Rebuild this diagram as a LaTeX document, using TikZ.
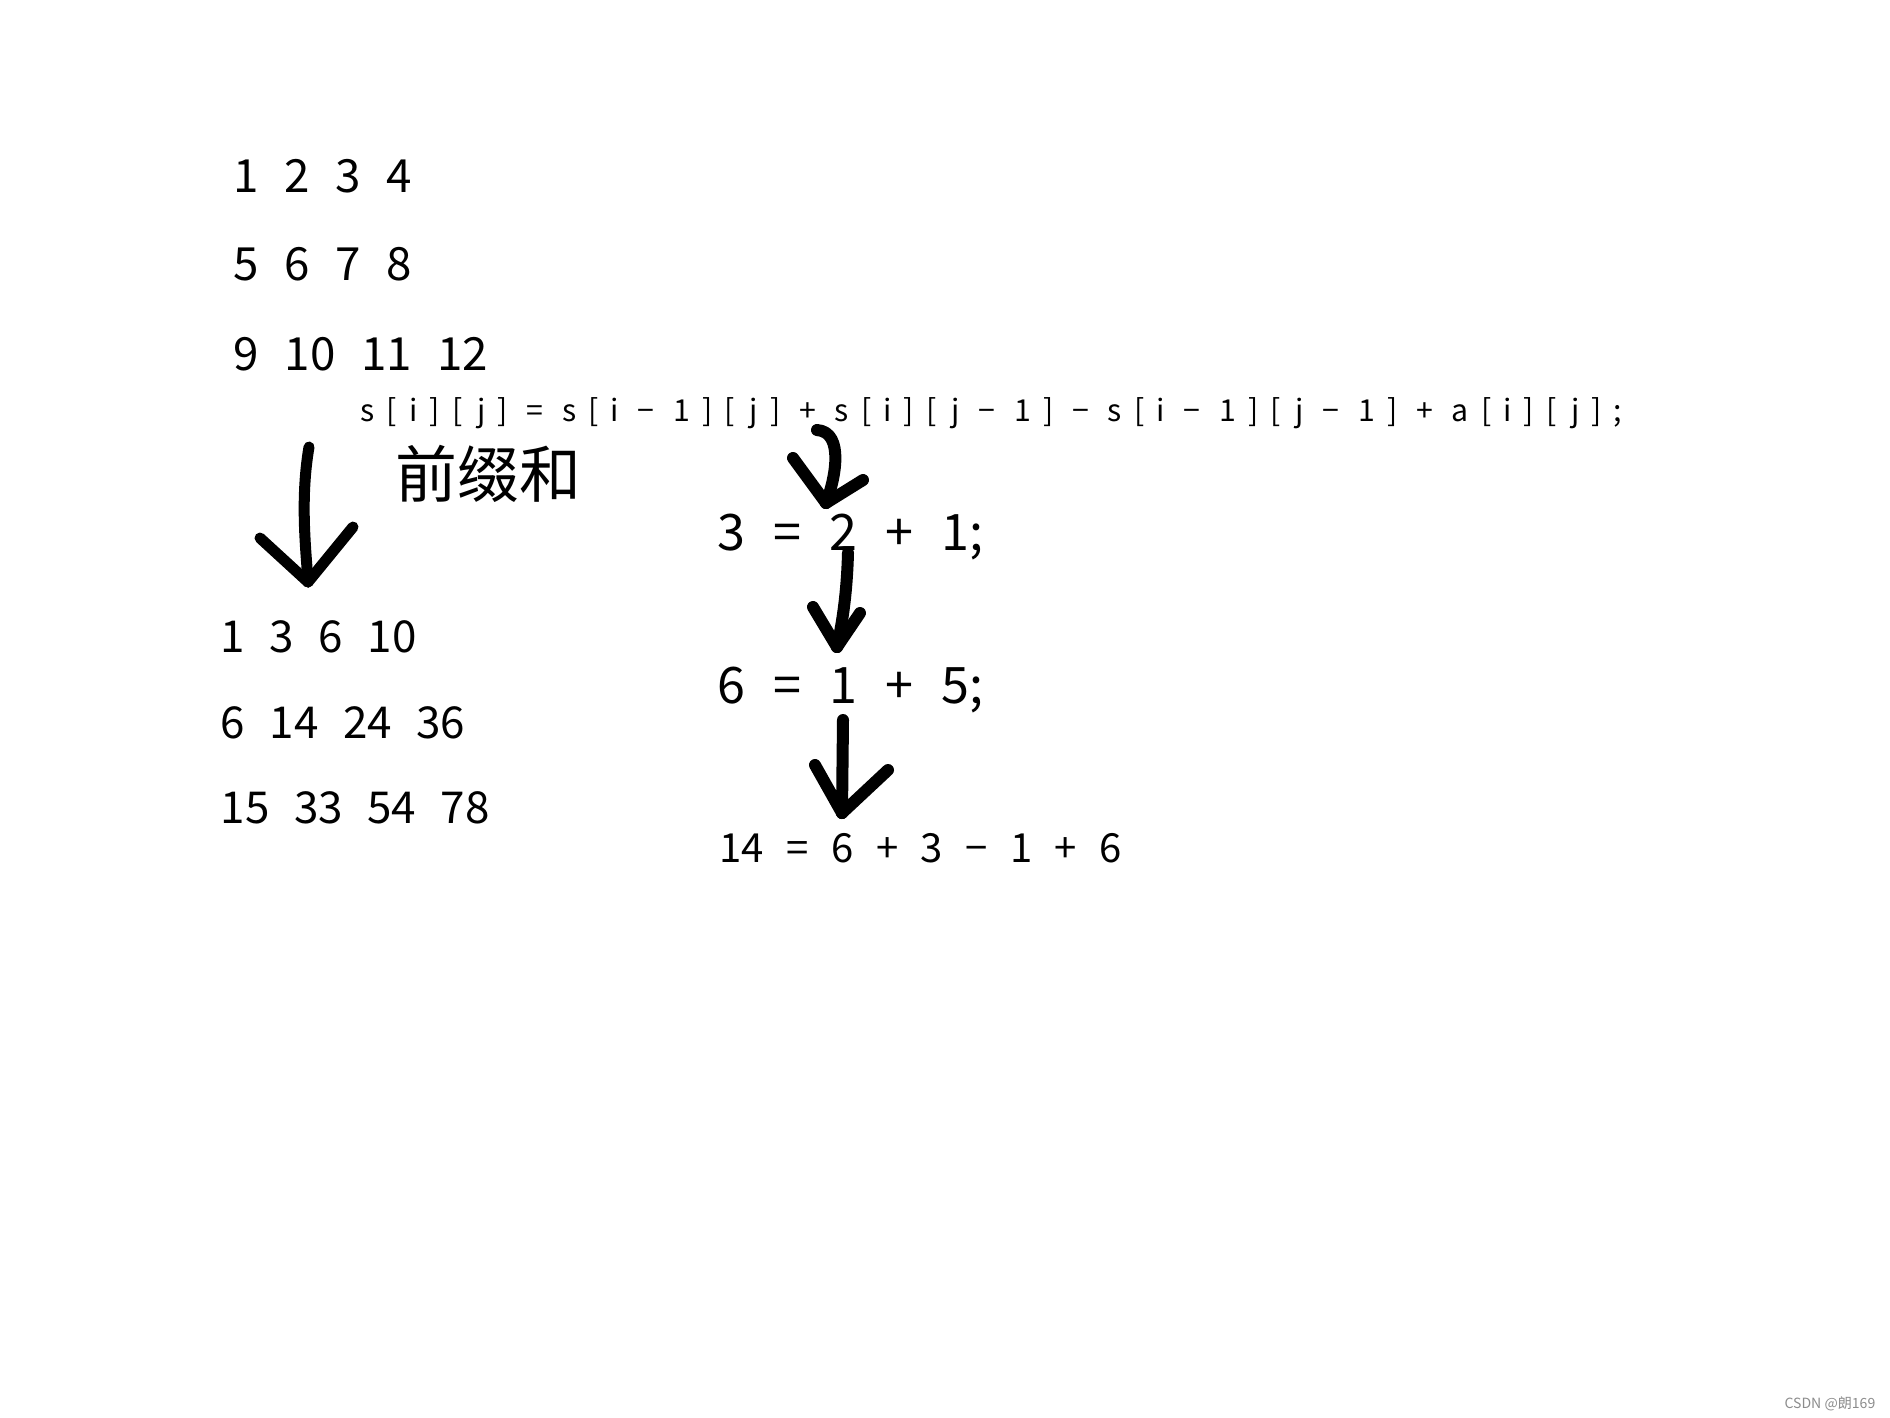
\documentclass[tikz,border=0pt]{standalone}
\usepackage{fontspec}
\setmainfont{Noto Sans CJK SC}
\newfontfamily\numfont{Noto Sans CJK SC}[WordSpace=2.5]
\newfontfamily\codefont{Noto Sans CJK SC}[LetterSpace=40]
\tikzset{
  num row/.style={
    anchor=base west,
    inner sep=0pt,
    font=\numfont\fontsize{13}{13}\selectfont,
  },
  eq row/.style={
    anchor=base west,
    inner sep=0pt,
    font=\numfont\fontsize{14.3}{14.3}\selectfont,
  },
  brush/.style={
    line width=0.12cm,
    line cap=round,
    line join=round,
  },
}

\begin{document}
\begin{tikzpicture}[x=0.01cm,y=-0.01cm]
        \useasboundingbox (0,0) rectangle (1890,1417);

        \node[num row] (a1) at (233,192) {1 2 3 4};
        \node[num row] (a2) at (233,280) {5 6 7 8};
        \node[num row] (a3) at (233,370) {9 10 11 12};

        \node[anchor=base west, inner sep=0pt, font=\codefont\fontsize{8.6}{8.6}\selectfont] (rule) at (360,421)
          {s[i][j] = s[i − 1][j] + s[i][j − 1] − s[i − 1][j − 1] + a[i][j];};
        \node[anchor=base west, inner sep=0pt, font=\fontsize{17.6}{17.6}\selectfont] (name) at (395,497) {前缀和};

        \node[num row, font=\numfont\fontsize{12.5}{12.5}\selectfont] (b1) at (220,652) {1 3 6 10};
        \node[num row, font=\numfont\fontsize{12.5}{12.5}\selectfont] (b2) at (220,738) {6 14 24 36};
        \node[num row, font=\numfont\fontsize{12.5}{12.5}\selectfont] (b3) at (220,823) {15 33 54 78};

        \node[eq row] (e1) at (717,550) {3 = 2 + 1;};
        \node[eq row] (e2) at (717,703) {6 = 1 + 5;};
        \node[eq row, font=\numfont\fontsize{11.4}{11.4}\selectfont] (e3) at (719,862) {14 = 6 + 3 − 1 + 6};

        \node[anchor=base east, inner sep=0pt, text=black!45, font=\fontsize{4}{4}\selectfont] (mark) at (1876,1408) {CSDN @朗169};

        \coordinate (s0) at (309,447);
        \coordinate (t0) at (308,582);
        \coordinate (s1) at (817,430);
        \coordinate (t1) at (826,503);
        \coordinate (s2) at (848,553);
        \coordinate (t2) at (837,647);
        \coordinate (s3) at (843,720);
        \coordinate (t3) at (842,813);

        \draw[brush, line width=0.11cm] (s0) .. controls (300,500) and (306,550) .. (t0);
        \draw[brush, line width=0.11cm] (t0) -- ++(-48,-44);
        \draw[brush, line width=0.11cm] (t0) -- ++(45,-55);

        \draw[brush] (s1) .. controls (845,432) and (835,480) .. (t1);
        \draw[brush] (t1) -- ++(-33,-45);
        \draw[brush] (t1) -- ++(37,-23);

        \draw[brush] (s2) .. controls (847,590) and (843,620) .. (t2);
        \draw[brush] (t2) -- ++(-24,-40);
        \draw[brush] (t2) -- ++(23,-34);

        \draw[brush] (s3) -- (t3);
        \draw[brush] (t3) -- ++(-27,-48);
        \draw[brush] (t3) -- ++(46,-43);
\end{tikzpicture}
\end{document}
